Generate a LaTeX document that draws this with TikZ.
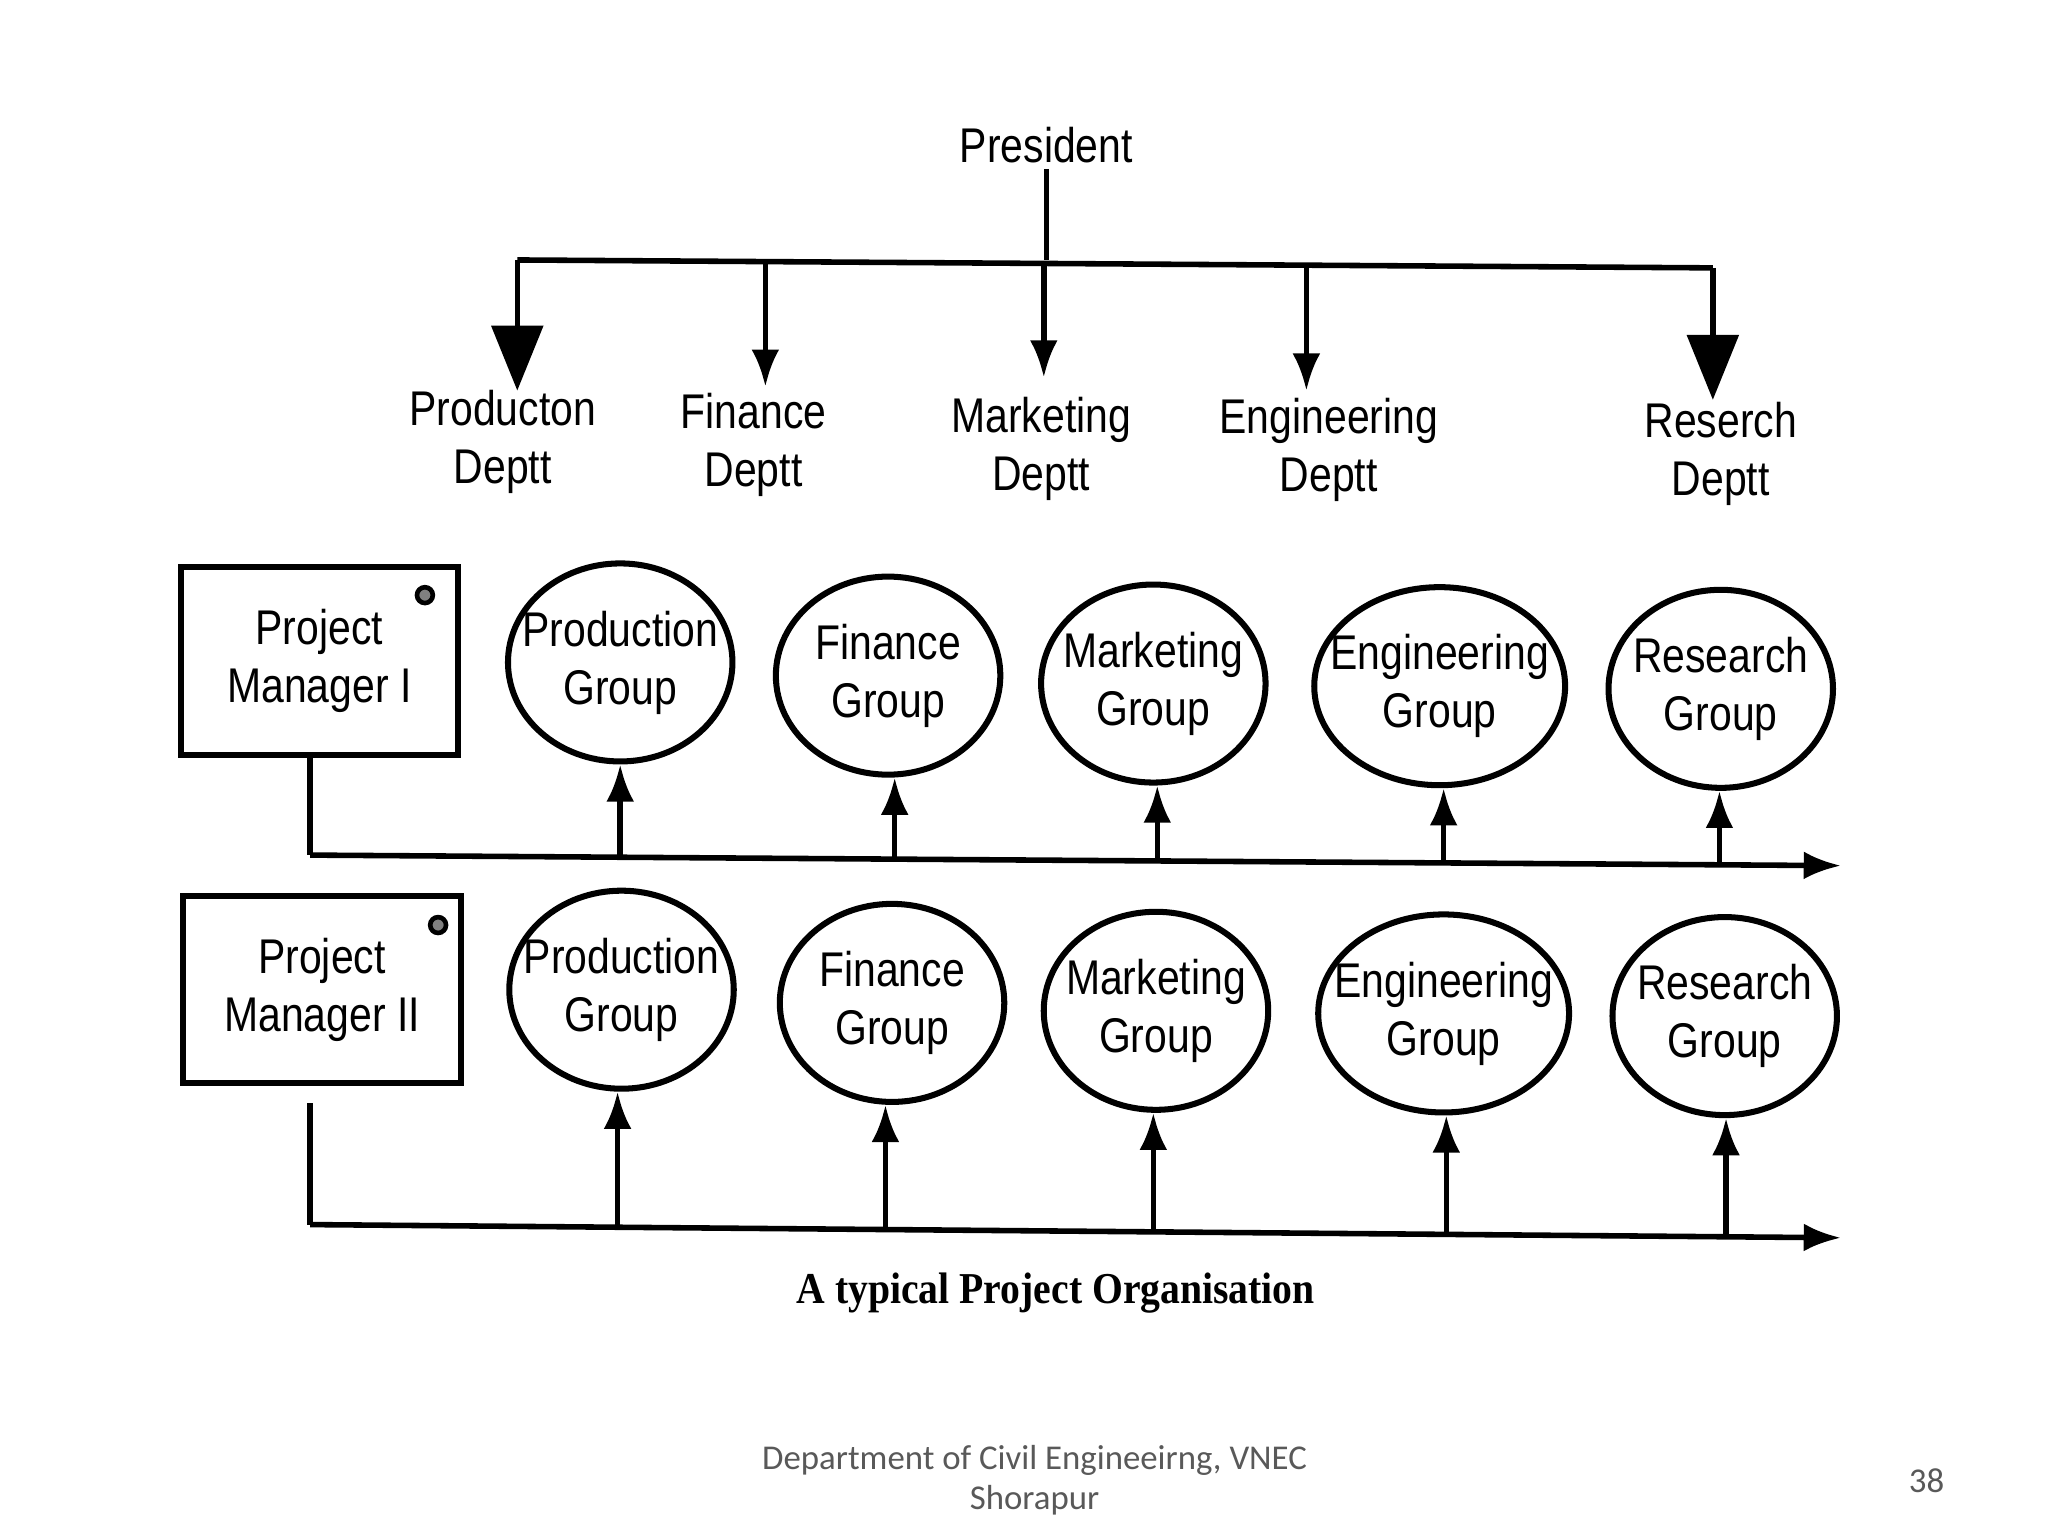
\documentclass[tikz,border=0pt]{standalone}
\usepackage{fontspec}
\setmainfont{Liberation Sans}[FakeStretch=0.84]
\newfontfamily\capfont{Liberation Serif}[FakeStretch=0.9]
\newfontfamily\footfont{Carlito}
\usetikzlibrary{shapes.geometric,arrows.meta}
\begin{document}
\begin{tikzpicture}[x=0.01cm,y=-0.01cm,
  lbl/.style={font=\fontsize{10.5}{12.5}\selectfont,align=center,inner sep=0pt},
  grp/.style={ellipse,draw,line width=1.3pt,minimum width=1.7cm,minimum height=1.5cm,inner sep=0pt},
  gt/.style={font=\fontsize{10.5}{12.5}\selectfont,align=center,inner sep=0pt},
  pm/.style={draw,line width=1.3pt,minimum width=2.1cm,minimum height=1.42cm,font=\fontsize{10.5}{12.5}\selectfont,align=center},
  ln/.style={line width=1.2pt},
  sarr/.style={ln,-{Latex[length=8pt,width=6pt]}},
  barr/.style={ln,-{Triangle[length=14pt,width=11pt]}}]
\useasboundingbox (0,0) rectangle (1552,1164);
\node[lbl] (pres) at (793,110) {President};
\coordinate (t0) at (793,197);
\coordinate (tl) at (392,197);
\coordinate (tr) at (1298,203);
\node[lbl] (d1) at (381,335) {Producton\\Deptt};
\node[lbl] (d2) at (571,337) {Finance\\Deptt};
\node[lbl] (d3) at (789,340) {Marketing\\Deptt};
\node[lbl] (d4) at (1007,341) {Engineering\\Deptt};
\node[lbl] (d5) at (1304,344) {Reserch\\Deptt};
\draw[ln] (tl) -- (tr);
\draw[ln] (793,128) -- (t0);
\draw[barr] (tl) -- (392,296);
\draw[barr] (tr) -- (1298,303);
\coordinate (c2) at (580,198); \draw[sarr] (c2) -- (580,293);
\coordinate (c3) at (791,200); \draw[sarr] (c3) -- (791,286);
\coordinate (c4) at (990,201); \draw[sarr] (c4) -- (990,296);
% Row 1
\node[pm] (pm1) at (242,501) {Project\\Manager I};
\draw[line width=1pt,fill=gray] (322,451) circle (6);
\node[grp] (a1) at (470,502) {}; \node[gt] at (a1) {Production\\Group};
\node[grp] (a2) at (673,512) {}; \node[gt] at (a2) {Finance\\Group};
\node[grp] (a3) at (874,518) {}; \node[gt] at (a3) {Marketing\\Group};
\node[grp,minimum width=1.9cm] (a4) at (1091,520) {}; \node[gt] at (a4) {Engineering\\Group};
\node[grp] (a5) at (1304,522) {}; \node[gt] at (a5) {Research\\Group};
\coordinate (r1s) at (235,572);
\coordinate (r1c) at (235,648);
\coordinate (r1e) at (1395,656);
\draw[ln] (r1s) -- (r1c);
\draw[sarr] (r1c) -- (r1e);
\foreach \n/\x/\y in {a1/470/649,a2/678/650,a3/877/651,a4/1094/653,a5/1303/654}
  {\coordinate (b\n) at (\x,\y); \draw[sarr] (b\n) -- (b\n |- \n.south);}
% Row 2
\node[pm] (pm2) at (244,750) {Project\\Manager II};
\draw[line width=1pt,fill=gray] (332,701) circle (6);
\node[grp] (e1) at (471,750) {}; \node[gt] at (e1) {Production\\Group};
\node[grp] (e2) at (676,760) {}; \node[gt] at (e2) {Finance\\Group};
\node[grp] (e3) at (876,766) {}; \node[gt] at (e3) {Marketing\\Group};
\node[grp,minimum width=1.9cm] (e4) at (1094,768) {}; \node[gt] at (e4) {Engineering\\Group};
\node[grp] (e5) at (1307,770) {}; \node[gt] at (e5) {Research\\Group};
\coordinate (r2s) at (235,836);
\coordinate (r2c) at (235,928);
\coordinate (r2e) at (1395,938);
\draw[ln] (r2s) -- (r2c);
\draw[sarr] (r2c) -- (r2e);
\foreach \n/\x/\y in {e1/468/929,e2/671/931,e3/874/933,e4/1096/935,e5/1308/937}
  {\coordinate (b\n) at (\x,\y); \draw[sarr] (b\n) -- (b\n |- \n.south);}
\node[font=\capfont\bfseries\fontsize{9.5}{11}\selectfont] (cap) at (800,980) {A typical Project Organisation};
\node[font=\footfont\fontsize{7.5}{8.6}\selectfont,align=center,text=gray!70!black] (ft) at (784,1122) {Department of Civil Engineeirng, VNEC\\Shorapur};
\node[font=\footfont\fontsize{7.5}{9}\selectfont,text=gray!70!black] (pg) at (1460,1122) {38};
\end{tikzpicture}
\end{document}
